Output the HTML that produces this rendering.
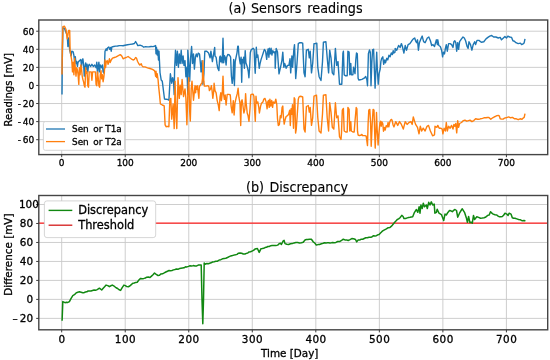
<!DOCTYPE html><html><head><meta charset="utf-8"><style>html,body{margin:0;padding:0;background:#fff;}svg{display:block;}</style></head><body>
<svg width="550" height="360" viewBox="0 0 550 360" font-family="'DejaVu Sans','Liberation Sans',sans-serif">
<rect x="0" y="0" width="550" height="360" fill="#ffffff"/>
<line x1="61.70" y1="20.0" x2="61.70" y2="154.6" stroke="#c8c8c8" stroke-width="0.9"/>
<line x1="125.23" y1="20.0" x2="125.23" y2="154.6" stroke="#c8c8c8" stroke-width="0.9"/>
<line x1="188.76" y1="20.0" x2="188.76" y2="154.6" stroke="#c8c8c8" stroke-width="0.9"/>
<line x1="252.29" y1="20.0" x2="252.29" y2="154.6" stroke="#c8c8c8" stroke-width="0.9"/>
<line x1="315.82" y1="20.0" x2="315.82" y2="154.6" stroke="#c8c8c8" stroke-width="0.9"/>
<line x1="379.35" y1="20.0" x2="379.35" y2="154.6" stroke="#c8c8c8" stroke-width="0.9"/>
<line x1="442.88" y1="20.0" x2="442.88" y2="154.6" stroke="#c8c8c8" stroke-width="0.9"/>
<line x1="506.41" y1="20.0" x2="506.41" y2="154.6" stroke="#c8c8c8" stroke-width="0.9"/>
<line x1="38.8" y1="139.69" x2="547.7" y2="139.69" stroke="#c8c8c8" stroke-width="0.9"/>
<line x1="38.8" y1="121.61" x2="547.7" y2="121.61" stroke="#c8c8c8" stroke-width="0.9"/>
<line x1="38.8" y1="103.53" x2="547.7" y2="103.53" stroke="#c8c8c8" stroke-width="0.9"/>
<line x1="38.8" y1="85.45" x2="547.7" y2="85.45" stroke="#c8c8c8" stroke-width="0.9"/>
<line x1="38.8" y1="67.37" x2="547.7" y2="67.37" stroke="#c8c8c8" stroke-width="0.9"/>
<line x1="38.8" y1="49.29" x2="547.7" y2="49.29" stroke="#c8c8c8" stroke-width="0.9"/>
<line x1="38.8" y1="31.21" x2="547.7" y2="31.21" stroke="#c8c8c8" stroke-width="0.9"/>
<polyline points="62.0,94.4 62.3,60.0 62.9,27.9 64.5,28.5 66.3,33.2 67.3,36.1 67.9,46.5 68.6,38.0 69.7,50.2 71.1,55.9 71.8,51.1 73.2,51.8 73.9,55.3 74.6,60.8 75.3,56.7 76.0,63.6 76.7,61.5 77.4,66.4 78.1,62.2 79.4,60.8 80.8,59.4 81.5,66.4 82.2,60.8 82.9,58.8 83.6,64.3 84.3,76.1 85.0,67.1 85.7,62.9 86.4,69.2 87.1,64.3 87.8,71.9 88.5,65.7 89.2,64.3 90.6,66.4 91.9,64.3 93.3,66.4 94.7,65.0 96.1,67.8 96.8,62.2 97.5,74.0 98.2,66.4 98.9,62.2 99.6,71.9 100.3,65.0 101.7,67.8 102.4,65.0 103.1,71.9 104.2,73.3 105.0,51.2 106.2,48.8 106.9,50.6 107.5,48.1 108.8,46.9 109.8,49.4 110.6,47.5 111.2,51.2 111.9,46.9 113.8,46.5 115.6,46.1 117.5,46.0 119.4,45.6 121.2,45.6 123.1,45.7 125.0,45.2 127.5,44.8 130.0,44.4 132.5,44.0 134.4,43.5 135.6,41.5 136.9,43.8 137.8,45.6 140.0,45.2 142.5,46.2 143.8,47.2 145.6,46.7 147.5,46.9 149.4,46.8 151.2,46.5 152.8,46.6 154.4,46.2 155.6,45.6 156.0,53.8 156.5,47.5 157.2,55.0 157.8,50.0 158.5,60.0 159.0,51.2 160.0,72.5 161.2,80.0 162.3,81.3 164.5,99.0 166.0,99.2 167.4,99.4 168.9,100.2 170.4,73.8 171.7,83.2 172.7,77.6 173.6,82.4 174.2,94.6 174.6,69.1 175.5,50.2 176.5,65.4 177.4,51.2 178.4,67.3 179.3,54.0 180.2,63.5 181.2,50.2 182.1,63.5 183.1,55.9 184.0,65.4 185.0,60.6 185.9,76.7 186.9,67.3 187.8,94.6 187.8,50.2 188.8,63.5 189.7,81.3 190.6,57.8 191.6,46.5 192.5,63.5 193.5,54.0 194.4,69.1 195.4,56.9 196.3,54.0 197.3,56.9 198.2,53.1 199.5,54.0 200.7,66.3 201.0,71.9 202.0,60.6 202.9,84.2 203.9,73.8 204.8,51.2 206.7,51.2 208.6,53.1 210.1,57.8 210.9,51.2 212.4,61.6 213.3,55.9 214.7,47.4 215.0,56.1 216.1,57.2 217.0,63.9 217.8,68.3 218.9,70.6 219.7,57.2 220.3,56.1 220.8,61.7 221.4,57.2 222.2,62.8 223.0,38.3 223.7,62.8 224.4,55.6 225.2,57.2 226.1,65.0 226.7,57.2 227.8,54.4 229.4,55.0 230.6,57.2 231.4,76.0 232.2,83.3 233.0,77.0 233.7,59.4 234.4,85.6 235.2,61.7 236.1,57.2 237.0,52.8 237.8,46.1 238.3,46.1 238.9,55.0 239.7,60.6 240.3,63.9 241.1,57.2 241.7,82.2 242.2,59.4 243.0,62.8 243.7,57.2 244.4,68.3 245.2,50.6 245.9,62.8 246.7,65.0 247.4,67.2 248.3,71.7 248.9,77.8 249.7,66.1 250.3,52.8 251.1,50.0 252.2,48.9 253.3,48.3 254.1,49.4 254.8,66.1 255.2,73.3 255.9,57.2 256.3,47.2 257.0,57.2 257.8,55.0 258.6,61.7 259.2,68.3 260.0,63.9 261.1,59.4 262.2,56.1 263.3,52.8 264.4,49.4 265.6,51.1 266.7,59.4 267.4,52.8 268.1,48.9 268.9,57.2 269.4,48.3 270.3,53.9 271.1,48.3 271.9,55.0 272.8,50.6 273.9,52.8 275.0,51.7 275.2,68.2 276.2,48.4 277.5,52.1 279.0,73.9 280.5,67.3 281.9,60.6 282.8,52.1 283.8,67.3 284.7,63.5 286.2,68.2 287.5,65.4 288.9,65.4 290.0,58.8 290.7,72.9 291.9,55.9 292.6,67.3 293.8,50.2 294.5,44.6 295.7,78.6 297.0,63.5 298.3,43.6 299.8,42.7 301.2,42.7 302.7,43.1 304.0,72.9 305.1,76.7 306.4,50.2 308.3,49.3 309.3,57.8 310.2,51.2 311.5,72.9 312.7,63.5 314.0,43.6 315.4,43.5 316.8,43.1 317.8,67.3 319.1,76.7 321.0,80.5 322.5,61.6 323.4,42.3 325.9,41.7 327.2,57.8 328.6,72.9 329.7,50.2 331.0,57.8 332.3,72.9 333.8,74.8 335.4,48.4 336.7,65.4 338.0,61.6 339.5,84.3 341.8,84.3 342.9,53.1 343.4,51.2 344.2,74.8 345.7,75.8 347.2,75.8 347.9,51.2 349.1,52.1 349.8,74.8 350.8,63.5 351.3,74.8 352.9,74.8 353.6,67.3 355.0,73.6 355.8,59.9 356.5,53.0 357.3,53.7 358.1,78.2 358.8,80.0 360.3,79.7 361.9,79.4 364.2,78.2 365.7,76.6 366.9,79.7 367.5,85.8 368.4,53.7 369.5,49.9 370.3,52.2 371.0,85.8 371.8,62.9 372.6,49.9 373.6,49.2 374.4,70.5 375.1,88.1 375.9,70.5 376.7,52.2 377.4,70.5 378.2,84.3 379.1,73.6 380.2,69.0 380.9,61.4 381.7,58.3 382.8,56.8 383.7,64.4 384.8,59.9 385.5,62.9 386.8,58.3 387.8,59.9 388.9,55.3 390.1,56.8 391.3,53.0 392.4,54.5 393.2,50.7 393.9,53.0 395.0,52.2 395.2,48.4 396.7,50.2 398.6,45.5 400.1,47.4 401.4,43.6 402.4,46.5 403.9,53.1 405.2,45.5 406.5,50.2 408.1,44.6 409.9,43.6 411.8,40.8 413.3,38.9 414.7,38.0 415.6,40.8 416.6,42.7 417.5,39.8 418.4,50.2 419.4,42.7 420.9,38.9 422.2,36.1 423.6,41.7 425.1,42.7 427.3,38.0 428.8,37.0 430.4,40.8 431.7,45.5 433.0,44.6 434.5,46.5 436.4,39.8 437.4,44.6 437.8,39.8 438.8,45.5 440.3,46.5 441.6,50.2 442.6,56.9 443.5,52.1 444.5,54.0 445.4,48.4 446.3,44.6 447.3,51.2 448.6,43.6 450.1,43.6 451.6,44.6 453.0,47.4 453.9,41.7 454.8,40.8 455.8,42.7 456.7,51.2 457.7,42.7 458.6,49.3 459.6,41.7 461.5,38.9 463.0,37.0 464.3,38.0 465.6,40.8 467.1,46.5 468.1,48.4 469.0,41.7 470.5,44.6 471.9,50.2 473.2,44.6 474.7,41.7 475.6,44.6 477.0,40.4 478.9,40.4 481.3,42.3 483.8,41.7 486.0,38.9 487.9,37.4 489.8,36.1 491.7,35.5 493.6,37.0 495.9,37.0 498.3,38.0 500.2,37.4 501.5,39.8 503.4,38.0 504.9,36.6 506.5,38.0 507.8,36.1 509.7,37.0 511.6,37.4 512.9,40.8 514.4,41.2 515.9,42.7 518.2,43.6 520.4,43.1 521.6,44.6 523.5,43.6 524.2,42.7 525.0,38.9" fill="none" stroke="#1f77b4" stroke-width="1.4" stroke-linejoin="round"/>
<polyline points="62.0,74.6 62.3,50.0 62.9,26.6 64.5,26.2 66.0,29.5 67.3,38.9 68.6,30.4 69.7,30.4 70.1,50.2 70.4,52.5 71.8,60.8 72.5,71.9 73.2,62.2 73.9,74.7 74.6,58.1 75.3,67.8 76.0,76.1 76.7,67.8 77.4,69.9 78.1,74.7 78.8,84.4 79.4,67.8 80.1,74.7 80.8,65.0 81.5,68.5 82.2,76.1 82.9,79.6 83.6,81.7 84.3,85.8 85.0,87.2 85.7,67.8 86.4,73.3 87.1,71.9 87.8,85.8 88.5,87.2 89.2,71.9 89.9,71.9 91.2,71.9 91.9,80.3 92.6,71.9 94.0,71.9 95.4,71.9 96.1,84.4 96.8,85.8 97.5,71.9 98.2,77.5 98.9,85.8 99.6,87.2 100.3,74.7 101.0,70.6 101.7,78.9 102.4,74.7 103.1,81.7 103.8,77.5 104.4,71.9 105.0,60.0 105.6,67.5 106.2,61.9 107.2,60.6 108.1,64.4 109.4,58.8 110.2,62.5 111.2,60.0 112.5,58.1 114.4,57.5 116.2,56.9 117.5,56.2 119.4,55.0 120.6,54.8 121.9,56.2 123.1,58.8 124.4,58.1 126.2,57.5 128.1,56.5 129.4,57.5 131.2,58.8 133.1,60.0 134.4,59.4 135.6,57.5 136.5,58.1 137.5,61.2 138.8,63.8 139.8,65.0 140.6,64.4 141.2,63.8 141.9,65.6 143.1,66.9 145.0,66.9 147.5,67.8 150.0,68.5 152.5,69.4 154.4,70.6 155.0,71.9 155.6,76.2 156.0,71.2 156.6,77.5 157.2,73.8 158.1,80.0 158.5,85.1 159.5,94.6 160.4,104.0 162.3,105.0 164.2,105.9 165.1,124.8 166.1,126.7 167.5,126.4 168.9,126.7 169.8,100.2 170.8,98.4 171.7,119.1 173.1,104.0 174.2,128.6 175.1,81.3 176.1,117.3 176.8,128.6 178.0,77.6 179.3,98.4 180.2,85.1 181.2,94.6 182.1,79.5 183.5,96.5 185.0,88.9 185.9,98.4 186.9,124.8 187.8,94.6 188.8,77.6 189.7,111.6 190.3,121.0 191.2,88.9 192.0,81.3 193.5,100.2 195.0,85.6 195.6,92.8 196.1,86.1 197.0,89.4 197.4,85.6 198.1,91.7 198.9,98.3 199.4,86.1 200.3,85.6 201.1,83.9 201.9,83.3 202.6,77.6 202.9,60.6 203.5,77.0 203.9,81.7 204.4,86.1 206.1,86.1 207.8,85.6 208.9,86.7 209.4,90.6 210.6,88.9 211.4,85.6 212.2,91.7 212.8,98.3 213.7,91.7 214.1,83.3 215.0,90.6 216.1,92.8 217.2,100.6 218.3,105.0 219.2,110.6 220.0,97.2 220.8,92.8 221.4,100.6 222.2,93.9 223.0,76.1 223.7,95.0 224.4,99.4 225.2,95.0 226.1,105.0 227.2,94.4 228.9,94.4 230.3,95.0 231.1,106.1 232.2,112.8 233.3,100.6 234.1,115.0 235.0,102.8 236.3,97.2 237.2,93.9 238.1,88.3 238.9,97.2 240.0,103.3 240.7,125.5 241.4,101.2 242.1,99.8 242.8,104.7 243.9,113.0 244.9,108.8 245.6,93.6 246.2,103.3 247.2,113.0 248.1,115.8 249.0,121.3 250.0,108.8 250.8,94.9 251.8,94.2 253.2,94.2 253.9,96.3 254.6,110.2 255.3,121.3 256.0,96.3 256.7,103.3 257.8,101.9 258.8,107.4 259.4,113.0 260.6,106.1 261.5,103.3 262.9,101.9 263.9,99.1 265.0,98.4 266.1,101.9 267.1,108.8 267.8,101.9 268.5,100.5 269.2,107.4 269.9,99.1 270.8,106.1 271.7,100.5 272.6,107.4 273.3,101.9 274.7,103.3 275.8,99.1 276.8,104.7 277.5,118.6 278.3,125.5 279.3,124.8 280.3,115.8 281.1,117.9 282.1,107.4 282.8,106.1 283.3,115.8 284.2,124.1 285.1,119.9 286.1,116.5 287.2,115.8 288.6,114.4 289.7,110.2 290.3,125.5 291.1,108.8 291.7,114.4 292.5,104.7 293.5,128.3 294.2,97.7 294.9,99.1 295.6,133.1 296.2,129.7 297.2,115.8 298.3,99.1 299.0,97.0 300.0,96.3 301.4,96.5 302.7,97.0 304.0,129.1 305.1,132.0 306.4,106.5 308.3,105.5 309.3,112.1 310.2,107.4 311.5,125.4 312.7,117.8 314.0,96.1 316.5,95.1 317.8,117.8 319.1,131.0 321.0,132.9 322.5,114.0 323.4,95.1 325.9,94.7 327.2,117.8 328.6,131.0 329.7,102.7 331.0,112.1 332.3,127.3 333.8,129.1 335.4,102.7 336.7,117.8 338.0,115.9 339.5,136.7 341.0,139.5 341.5,132.9 342.3,110.2 343.4,108.4 344.2,131.0 345.7,132.0 347.2,132.0 347.9,107.4 349.1,109.3 349.8,131.0 350.8,121.6 351.3,131.0 352.9,132.0 354.2,132.0 355.0,121.2 356.2,107.5 356.9,108.8 357.5,131.2 358.1,135.0 359.4,135.6 361.2,135.0 361.9,134.4 362.5,135.6 365.0,135.6 366.2,136.2 366.9,141.2 367.5,145.6 368.1,123.8 368.8,110.0 369.8,109.4 370.6,123.8 371.2,146.2 372.2,123.8 373.1,109.4 374.0,110.0 374.6,130.0 375.2,148.1 376.0,130.0 376.5,112.5 377.2,130.0 378.1,145.0 379.0,132.5 380.0,122.5 380.6,121.2 381.2,126.2 381.9,121.9 382.8,123.8 383.5,131.2 384.4,127.5 385.2,130.0 386.2,125.6 387.2,126.9 388.1,122.5 388.8,126.9 389.8,121.9 390.6,120.0 391.5,119.4 392.2,120.6 393.1,125.0 394.0,126.9 395.0,123.8 395.8,121.6 397.7,125.4 399.5,121.6 401.4,124.4 403.3,129.1 405.2,121.6 407.1,124.4 409.0,122.5 410.9,121.6 412.2,124.4 413.3,116.9 414.7,121.6 415.6,124.4 417.5,127.3 419.0,133.9 420.3,126.3 421.7,131.0 423.2,128.2 425.1,131.0 427.0,126.3 428.5,125.4 430.4,131.0 432.6,135.8 434.5,134.8 435.0,126.3 436.9,127.3 437.8,125.4 439.2,128.2 440.7,128.2 442.2,129.1 442.9,133.9 444.1,128.2 445.4,131.0 446.3,122.5 447.3,131.0 448.6,126.3 450.1,128.2 451.6,125.4 453.0,129.1 453.9,124.4 454.8,126.3 455.8,123.5 456.7,132.9 457.7,120.6 458.6,127.3 459.6,123.5 461.5,122.5 463.4,120.6 464.9,120.1 466.8,121.2 468.6,120.6 470.0,120.1 471.9,121.6 473.8,120.6 475.6,118.8 477.5,119.3 478.9,119.3 480.4,118.8 481.8,118.6 483.2,118.2 484.6,117.7 486.0,117.8 487.4,117.5 488.9,117.4 490.8,119.3 492.7,117.8 494.1,117.0 495.5,116.3 496.9,115.6 498.3,115.5 499.3,115.9 500.2,118.8 501.6,119.1 503.1,119.1 504.5,118.1 505.9,117.8 507.3,117.3 508.7,116.9 510.6,117.8 512.5,117.4 514.4,118.8 516.3,118.8 518.2,119.7 520.1,118.8 522.0,119.3 523.5,117.8 524.2,117.4 525.0,113.6" fill="none" stroke="#ff7f0e" stroke-width="1.4" stroke-linejoin="round"/>
<rect x="38.8" y="20.0" width="508.90" height="134.60" fill="none" stroke="#454545" stroke-width="1.4"/>
<line x1="61.70" y1="154.6" x2="61.70" y2="157.2" stroke="#3a3a3a" stroke-width="1"/>
<line x1="125.23" y1="154.6" x2="125.23" y2="157.2" stroke="#3a3a3a" stroke-width="1"/>
<line x1="188.76" y1="154.6" x2="188.76" y2="157.2" stroke="#3a3a3a" stroke-width="1"/>
<line x1="252.29" y1="154.6" x2="252.29" y2="157.2" stroke="#3a3a3a" stroke-width="1"/>
<line x1="315.82" y1="154.6" x2="315.82" y2="157.2" stroke="#3a3a3a" stroke-width="1"/>
<line x1="379.35" y1="154.6" x2="379.35" y2="157.2" stroke="#3a3a3a" stroke-width="1"/>
<line x1="442.88" y1="154.6" x2="442.88" y2="157.2" stroke="#3a3a3a" stroke-width="1"/>
<line x1="506.41" y1="154.6" x2="506.41" y2="157.2" stroke="#3a3a3a" stroke-width="1"/>
<line x1="36.199999999999996" y1="139.69" x2="38.8" y2="139.69" stroke="#3a3a3a" stroke-width="1"/>
<line x1="36.199999999999996" y1="121.61" x2="38.8" y2="121.61" stroke="#3a3a3a" stroke-width="1"/>
<line x1="36.199999999999996" y1="103.53" x2="38.8" y2="103.53" stroke="#3a3a3a" stroke-width="1"/>
<line x1="36.199999999999996" y1="85.45" x2="38.8" y2="85.45" stroke="#3a3a3a" stroke-width="1"/>
<line x1="36.199999999999996" y1="67.37" x2="38.8" y2="67.37" stroke="#3a3a3a" stroke-width="1"/>
<line x1="36.199999999999996" y1="49.29" x2="38.8" y2="49.29" stroke="#3a3a3a" stroke-width="1"/>
<line x1="36.199999999999996" y1="31.21" x2="38.8" y2="31.21" stroke="#3a3a3a" stroke-width="1"/>
<text stroke="#000" stroke-width="0.3" x="61.70" y="165.6" font-size="9" text-anchor="middle" fill="#000000">0</text>
<text stroke="#000" stroke-width="0.3" x="125.23" y="165.6" font-size="9" text-anchor="middle" fill="#000000">100</text>
<text stroke="#000" stroke-width="0.3" x="188.76" y="165.6" font-size="9" text-anchor="middle" fill="#000000">200</text>
<text stroke="#000" stroke-width="0.3" x="252.29" y="165.6" font-size="9" text-anchor="middle" fill="#000000">300</text>
<text stroke="#000" stroke-width="0.3" x="315.82" y="165.6" font-size="9" text-anchor="middle" fill="#000000">400</text>
<text stroke="#000" stroke-width="0.3" x="379.35" y="165.6" font-size="9" text-anchor="middle" fill="#000000">500</text>
<text stroke="#000" stroke-width="0.3" x="442.88" y="165.6" font-size="9" text-anchor="middle" fill="#000000">600</text>
<text stroke="#000" stroke-width="0.3" x="506.41" y="165.6" font-size="9" text-anchor="middle" fill="#000000">700</text>
<text stroke="#000" stroke-width="0.3" x="34.2" y="142.99" font-size="9" text-anchor="end" fill="#000000">- 60</text>
<text stroke="#000" stroke-width="0.3" x="34.2" y="124.91" font-size="9" text-anchor="end" fill="#000000">- 40</text>
<text stroke="#000" stroke-width="0.3" x="34.2" y="106.83" font-size="9" text-anchor="end" fill="#000000">- 20</text>
<text stroke="#000" stroke-width="0.3" x="34.2" y="88.75" font-size="9" text-anchor="end" fill="#000000">0</text>
<text stroke="#000" stroke-width="0.3" x="34.2" y="70.67" font-size="9" text-anchor="end" fill="#000000">20</text>
<text stroke="#000" stroke-width="0.3" x="34.2" y="52.59" font-size="9" text-anchor="end" fill="#000000">40</text>
<text stroke="#000" stroke-width="0.3" x="34.2" y="34.51" font-size="9" text-anchor="end" fill="#000000">60</text>
<rect x="43.4" y="121.6" width="81.2" height="28.7" rx="2" ry="2" fill="#ffffff" stroke="#cccccc" stroke-width="0.8"/>
<line x1="46" y1="129" x2="65" y2="129" stroke="#1f77b4" stroke-width="1.3"/>
<line x1="46" y1="141.6" x2="65" y2="141.6" stroke="#ff7f0e" stroke-width="1.3"/>
<text stroke="#000" stroke-width="0.3" x="72" y="132.2" font-size="8.9" fill="#000000">Sen<tspan dx="4.6">or T1a</tspan></text>
<text stroke="#000" stroke-width="0.3" x="72" y="144.8" font-size="8.9" fill="#000000">Sen<tspan dx="4.6">or T2a</tspan></text>
<text stroke="#000" stroke-width="0.12" font-size="12.8" transform="translate(228.4,13.1) scale(1,1.08)" fill="#000000">(a)</text>
<text stroke="#000" stroke-width="0.12" font-size="12.8" transform="translate(251.0,13.1) scale(1,1.08)" fill="#000000">Sensors</text>
<text stroke="#000" stroke-width="0.12" font-size="12.8" transform="translate(307.3,13.1) scale(1,1.08)" fill="#000000">readings</text>
<text stroke="#000" stroke-width="0.3" transform="translate(11.6,89.7) rotate(-90)" font-size="10" text-anchor="middle" fill="#000000">Readings [mV]</text>
<line x1="61.70" y1="195.5" x2="61.70" y2="329.8" stroke="#c8c8c8" stroke-width="0.9"/>
<line x1="125.23" y1="195.5" x2="125.23" y2="329.8" stroke="#c8c8c8" stroke-width="0.9"/>
<line x1="188.76" y1="195.5" x2="188.76" y2="329.8" stroke="#c8c8c8" stroke-width="0.9"/>
<line x1="252.29" y1="195.5" x2="252.29" y2="329.8" stroke="#c8c8c8" stroke-width="0.9"/>
<line x1="315.82" y1="195.5" x2="315.82" y2="329.8" stroke="#c8c8c8" stroke-width="0.9"/>
<line x1="379.35" y1="195.5" x2="379.35" y2="329.8" stroke="#c8c8c8" stroke-width="0.9"/>
<line x1="442.88" y1="195.5" x2="442.88" y2="329.8" stroke="#c8c8c8" stroke-width="0.9"/>
<line x1="506.41" y1="195.5" x2="506.41" y2="329.8" stroke="#c8c8c8" stroke-width="0.9"/>
<line x1="38.8" y1="318.38" x2="547.7" y2="318.38" stroke="#c8c8c8" stroke-width="0.9"/>
<line x1="38.8" y1="299.40" x2="547.7" y2="299.40" stroke="#c8c8c8" stroke-width="0.9"/>
<line x1="38.8" y1="280.42" x2="547.7" y2="280.42" stroke="#c8c8c8" stroke-width="0.9"/>
<line x1="38.8" y1="261.44" x2="547.7" y2="261.44" stroke="#c8c8c8" stroke-width="0.9"/>
<line x1="38.8" y1="242.46" x2="547.7" y2="242.46" stroke="#c8c8c8" stroke-width="0.9"/>
<line x1="38.8" y1="223.48" x2="547.7" y2="223.48" stroke="#c8c8c8" stroke-width="0.9"/>
<line x1="38.8" y1="204.50" x2="547.7" y2="204.50" stroke="#c8c8c8" stroke-width="0.9"/>
<line x1="38.8" y1="223.08" x2="547.7" y2="223.08" stroke="#ff2020" stroke-width="1.4"/>
<polyline points="62.1,320.7 62.8,301.6 65.0,302.7 66.5,302.3 67.9,302.4 69.4,301.6 71.1,298.3 72.8,295.6 74.4,294.7 76.1,292.9 77.8,292.2 79.4,291.8 81.1,292.2 82.8,292.7 84.1,292.7 85.4,292.0 86.8,291.8 88.1,291.0 89.4,291.1 91.0,291.0 92.5,290.5 94.1,290.0 95.6,290.2 97.2,289.6 99.4,288.2 101.7,290.0 103.2,288.2 104.6,286.7 106.1,285.1 107.8,285.6 109.4,286.7 110.8,285.8 112.3,285.1 114.2,286.2 116.1,287.8 117.6,288.5 119.1,289.8 120.6,290.4 122.2,287.6 123.9,285.1 125.4,285.6 126.8,286.6 128.3,286.7 129.8,286.0 131.3,284.6 132.8,283.3 134.3,283.0 135.7,282.4 137.2,282.2 138.9,280.0 140.6,278.4 142.2,278.8 143.9,278.4 145.4,278.0 146.8,277.2 148.3,277.1 150.0,277.5 151.5,276.1 153.0,274.7 154.5,273.0 156.2,274.4 158.0,275.5 159.5,275.3 161.0,273.9 162.5,273.8 164.2,272.9 165.8,272.0 167.5,271.2 169.0,270.5 170.5,270.7 172.0,270.5 173.5,269.9 175.0,269.5 176.5,269.0 178.0,269.2 179.5,268.6 181.0,268.3 182.5,268.0 184.0,267.8 185.5,266.8 187.0,266.9 188.5,266.4 190.0,265.8 191.7,266.1 193.3,265.6 195.0,266.0 196.7,265.9 198.3,265.1 200.0,265.0 201.2,265.0 202.0,300.0 202.8,323.8 203.5,300.0 204.2,263.0 205.5,264.2 206.9,263.4 208.3,263.7 209.7,263.2 211.1,262.8 212.5,262.0 214.2,261.7 215.8,261.3 217.5,261.2 219.2,260.0 220.8,259.7 222.5,258.8 224.2,258.5 225.8,258.2 227.5,257.5 229.2,256.6 230.8,255.9 232.5,255.5 234.0,255.1 235.5,254.8 237.0,254.4 238.5,253.2 240.0,253.0 241.7,253.3 243.3,254.0 245.0,254.0 246.4,253.4 247.8,253.0 249.1,251.9 250.5,251.8 252.0,251.1 253.5,250.4 255.0,249.1 257.4,248.5 259.2,252.4 261.0,248.7 262.3,248.6 263.7,248.3 265.0,247.6 266.4,247.3 267.8,246.5 269.1,246.5 270.5,245.8 272.3,245.4 274.1,245.5 275.9,245.6 277.7,245.1 279.1,243.8 280.5,243.3 281.4,244.5 283.2,240.9 284.1,240.4 285.0,243.6 286.8,244.3 288.6,244.5 290.5,243.7 292.3,243.6 294.1,242.9 295.9,242.5 297.7,242.5 299.5,242.9 301.4,242.7 303.2,242.2 305.0,240.0 306.4,239.5 307.7,239.5 309.5,239.3 311.4,239.3 313.2,241.8 314.8,243.0 316.3,245.1 317.9,244.6 319.5,244.5 321.4,243.8 323.2,243.3 324.6,242.8 325.9,243.1 327.2,242.7 328.6,242.7 330.0,242.9 331.4,242.8 332.7,242.6 334.1,242.7 335.9,242.4 337.7,241.5 340.0,241.4 341.6,240.4 343.3,239.2 344.9,239.9 346.6,239.9 348.2,240.5 350.0,239.6 351.8,238.6 353.6,238.8 355.5,239.5 356.7,241.9 358.2,239.9 359.7,240.1 361.2,239.2 362.7,239.2 364.2,238.5 365.8,237.8 367.3,237.7 369.1,237.2 370.9,237.2 372.2,236.7 373.6,235.7 375.0,235.9 376.4,235.7 377.8,234.8 379.1,234.6 380.5,233.0 381.8,231.7 383.1,230.7 384.5,229.9 386.4,228.9 388.2,227.7 390.0,227.4 391.8,225.9 393.1,224.2 394.5,222.6 395.9,221.1 397.3,219.5 398.6,218.9 400.0,217.7 401.8,215.4 403.1,216.5 404.0,218.6 405.6,218.5 407.3,217.9 408.6,217.5 410.0,217.3 411.4,217.0 412.7,216.8 414.5,212.3 416.4,209.5 417.8,212.3 419.1,206.8 420.0,213.2 420.9,205.0 422.2,208.6 423.3,203.2 424.5,206.8 426.4,205.0 427.3,208.6 428.7,202.3 430.0,205.0 431.3,201.9 432.7,205.0 434.2,204.1 434.9,213.2 436.4,212.3 437.2,209.2 439.0,213.2 441.4,214.6 443.7,220.5 445.0,214.1 446.3,215.0 447.9,212.4 449.5,210.5 450.9,210.8 452.3,211.7 453.6,210.4 455.0,209.5 456.5,210.5 457.7,217.2 459.5,213.2 460.9,210.8 462.3,208.8 464.5,212.3 466.3,217.7 467.4,222.3 468.6,216.5 469.9,222.6 471.4,222.3 472.3,223.2 473.5,215.4 474.6,219.5 476.8,216.8 478.6,217.4 480.5,218.3 482.3,218.1 484.1,217.7 485.9,217.0 487.7,215.4 489.2,215.0 490.5,211.7 491.9,213.1 493.2,214.1 495.0,214.8 496.8,215.0 498.1,216.1 499.5,216.8 500.9,216.7 502.3,216.5 503.6,215.2 505.0,213.2 506.8,214.1 508.1,215.4 509.2,213.2 511.0,214.1 512.3,217.7 513.6,218.2 515.0,218.3 516.8,218.9 518.6,219.5 520.5,219.8 522.3,220.8 524.1,220.5 525.4,221.0" fill="none" stroke="#118811" stroke-width="1.5" stroke-linejoin="round"/>
<rect x="38.8" y="195.5" width="508.90" height="134.30" fill="none" stroke="#454545" stroke-width="1.4"/>
<line x1="61.70" y1="329.8" x2="61.70" y2="332.40000000000003" stroke="#3a3a3a" stroke-width="1"/>
<line x1="125.23" y1="329.8" x2="125.23" y2="332.40000000000003" stroke="#3a3a3a" stroke-width="1"/>
<line x1="188.76" y1="329.8" x2="188.76" y2="332.40000000000003" stroke="#3a3a3a" stroke-width="1"/>
<line x1="252.29" y1="329.8" x2="252.29" y2="332.40000000000003" stroke="#3a3a3a" stroke-width="1"/>
<line x1="315.82" y1="329.8" x2="315.82" y2="332.40000000000003" stroke="#3a3a3a" stroke-width="1"/>
<line x1="379.35" y1="329.8" x2="379.35" y2="332.40000000000003" stroke="#3a3a3a" stroke-width="1"/>
<line x1="442.88" y1="329.8" x2="442.88" y2="332.40000000000003" stroke="#3a3a3a" stroke-width="1"/>
<line x1="506.41" y1="329.8" x2="506.41" y2="332.40000000000003" stroke="#3a3a3a" stroke-width="1"/>
<line x1="36.199999999999996" y1="318.38" x2="38.8" y2="318.38" stroke="#3a3a3a" stroke-width="1"/>
<line x1="36.199999999999996" y1="299.40" x2="38.8" y2="299.40" stroke="#3a3a3a" stroke-width="1"/>
<line x1="36.199999999999996" y1="280.42" x2="38.8" y2="280.42" stroke="#3a3a3a" stroke-width="1"/>
<line x1="36.199999999999996" y1="261.44" x2="38.8" y2="261.44" stroke="#3a3a3a" stroke-width="1"/>
<line x1="36.199999999999996" y1="242.46" x2="38.8" y2="242.46" stroke="#3a3a3a" stroke-width="1"/>
<line x1="36.199999999999996" y1="223.48" x2="38.8" y2="223.48" stroke="#3a3a3a" stroke-width="1"/>
<line x1="36.199999999999996" y1="204.50" x2="38.8" y2="204.50" stroke="#3a3a3a" stroke-width="1"/>
<text stroke="#000" stroke-width="0.3" x="61.95" y="343.0" letter-spacing="0.5" font-size="10.4" text-anchor="middle" fill="#000000">0</text>
<text stroke="#000" stroke-width="0.3" x="125.48" y="343.0" letter-spacing="0.5" font-size="10.4" text-anchor="middle" fill="#000000">100</text>
<text stroke="#000" stroke-width="0.3" x="189.01" y="343.0" letter-spacing="0.5" font-size="10.4" text-anchor="middle" fill="#000000">200</text>
<text stroke="#000" stroke-width="0.3" x="252.54" y="343.0" letter-spacing="0.5" font-size="10.4" text-anchor="middle" fill="#000000">300</text>
<text stroke="#000" stroke-width="0.3" x="316.07" y="343.0" letter-spacing="0.5" font-size="10.4" text-anchor="middle" fill="#000000">400</text>
<text stroke="#000" stroke-width="0.3" x="379.60" y="343.0" letter-spacing="0.5" font-size="10.4" text-anchor="middle" fill="#000000">500</text>
<text stroke="#000" stroke-width="0.3" x="443.13" y="343.0" letter-spacing="0.5" font-size="10.4" text-anchor="middle" fill="#000000">600</text>
<text stroke="#000" stroke-width="0.3" x="506.66" y="343.0" letter-spacing="0.5" font-size="10.4" text-anchor="middle" fill="#000000">700</text>
<text stroke="#000" stroke-width="0.3" x="33.0" y="322.18" font-size="10.4" text-anchor="end" fill="#000000">– 20</text>
<text stroke="#000" stroke-width="0.3" x="33.0" y="303.20" font-size="10.4" text-anchor="end" fill="#000000">0</text>
<text stroke="#000" stroke-width="0.3" x="33.0" y="284.22" font-size="10.4" text-anchor="end" fill="#000000">20</text>
<text stroke="#000" stroke-width="0.3" x="33.0" y="265.24" font-size="10.4" text-anchor="end" fill="#000000">40</text>
<text stroke="#000" stroke-width="0.3" x="33.0" y="246.26" font-size="10.4" text-anchor="end" fill="#000000">60</text>
<text stroke="#000" stroke-width="0.3" x="33.0" y="227.28" font-size="10.4" text-anchor="end" fill="#000000">80</text>
<text stroke="#000" stroke-width="0.3" x="38.8" y="208.30" font-size="10.4" text-anchor="end" fill="#000000">100</text>
<rect x="44.4" y="200.9" width="111.3" height="36.7" rx="2.5" ry="2.5" fill="#ffffff" stroke="#cccccc" stroke-width="0.8"/>
<line x1="48.6" y1="210.4" x2="72.3" y2="210.4" stroke="#118811" stroke-width="1.4"/>
<line x1="48.6" y1="225.2" x2="72.3" y2="225.2" stroke="#d41a1a" stroke-width="1.3"/>
<text stroke="#000" stroke-width="0.3" x="78.2" y="214.4" font-size="11.4" fill="#000000">Discrepancy</text>
<text stroke="#000" stroke-width="0.3" x="78.2" y="229.0" font-size="11.4" fill="#000000">Threshold</text>
<text stroke="#000" stroke-width="0.12" font-size="12.8" transform="translate(245.9,191.8) scale(1,1.08)" fill="#000000">(b)</text>
<text stroke="#000" stroke-width="0.12" font-size="12.8" transform="translate(269.4,191.8) scale(1,1.08)" fill="#000000">Discrepancy</text>
<text stroke="#000" stroke-width="0.3" transform="translate(11.7,254.6) rotate(-90)" font-size="10.4" text-anchor="middle" fill="#000000">Difference [mV]</text>
<text stroke="#000" stroke-width="0.3" x="289.7" y="356.5" font-size="10.4" text-anchor="middle" fill="#000000">Time [Day]</text>
</svg></body></html>
